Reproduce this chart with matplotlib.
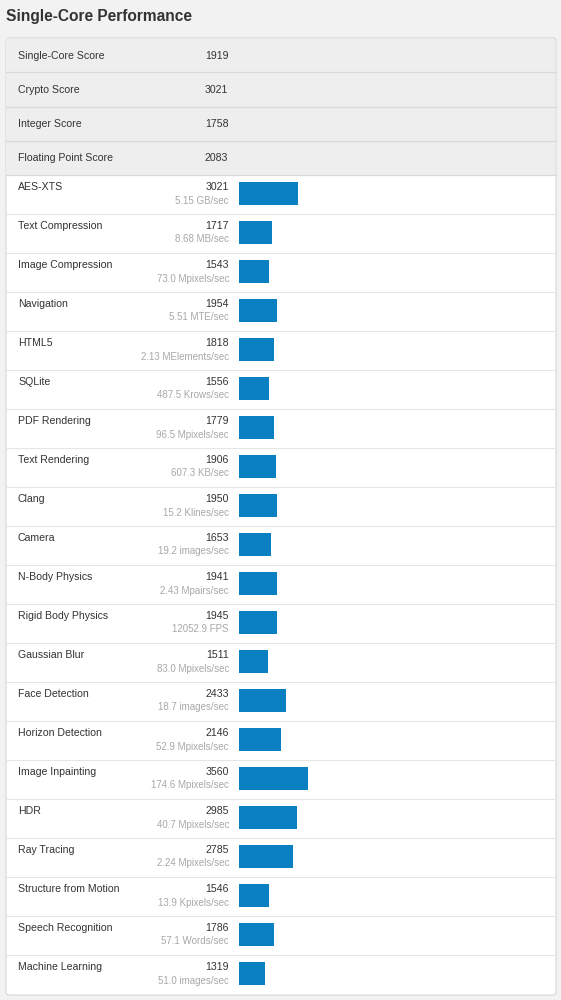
import matplotlib as mpl
mpl.use('Agg')
import matplotlib.pyplot as plt
from matplotlib.patches import Rectangle, FancyBboxPatch

plt.rcParams['font.family'] = ['Liberation Sans', 'DejaVu Sans']

# Data
title = 'Single-Core Performance'
summary_names = ['Single-Core Score', 'Crypto Score', 'Integer Score', 'Floating Point Score']
summary_scores = [1919, 3021, 1758, 2083]

bench_names = ['AES-XTS', 'Text Compression', 'Image Compression', 'Navigation', 'HTML5',
               'SQLite', 'PDF Rendering', 'Text Rendering', 'Clang', 'Camera',
               'N-Body Physics', 'Rigid Body Physics', 'Gaussian Blur', 'Face Detection',
               'Horizon Detection', 'Image Inpainting', 'HDR', 'Ray Tracing',
               'Structure from Motion', 'Speech Recognition', 'Machine Learning']
bench_scores = [3021, 1717, 1543, 1954, 1818, 1556, 1779, 1906, 1950, 1653,
                1941, 1945, 1511, 2433, 2146, 3560, 2985, 2785, 1546, 1786, 1319]
bench_rates = ['5.15 GB/sec', '8.68 MB/sec', '73.0 Mpixels/sec', '5.51 MTE/sec',
               '2.13 MElements/sec', '487.5 Krows/sec', '96.5 Mpixels/sec', '607.3 KB/sec',
               '15.2 Klines/sec', '19.2 images/sec', '2.43 Mpairs/sec', '12052.9 FPS',
               '83.0 Mpixels/sec', '18.7 images/sec', '52.9 Mpixels/sec', '174.6 Mpixels/sec',
               '40.7 Mpixels/sec', '2.24 Mpixels/sec', '13.9 Kpixels/sec', '57.1 Words/sec',
               '51.0 images/sec']

# Layout (pixels)
W, H = 561, 1000
panel_l, panel_r, panel_t, panel_b = 6, 556, 38, 995
sum_h = 34.25
rows_t = panel_t + 4 * sum_h
row_h = 39
bar_x0 = 239
px_per_point = 0.0195

bg = '#f2f2f2'
grey_row = '#eeeeee'
line_c = '#d9d9d9'
text_c = '#333333'
sub_c = '#a8a8a8'
bar_c = '#0a7fc2'

fig = plt.figure(figsize=(W / 100, H / 100), dpi=100)
fig.patch.set_facecolor(bg)

ax = fig.add_axes([0, 0, 1, 1])
ax.set_xlim(0, W)
ax.set_ylim(H, 0)
ax.axis('off')

ax.text(6, 17, title, fontsize=11.2, fontweight='bold', color=text_c, va='center', ha='left')

# panel
ax.add_patch(FancyBboxPatch((panel_l, panel_t), panel_r - panel_l, panel_b - panel_t,
                            boxstyle='round,pad=0,rounding_size=3', facecolor='white',
                            edgecolor='#d6d6d6', linewidth=0.8, zorder=1))

# summary rows
for i, (name, score) in enumerate(zip(summary_names, summary_scores)):
    top = panel_t + i * sum_h
    ax.add_patch(Rectangle((panel_l + 0.5, top + 0.5), panel_r - panel_l - 1, sum_h - 0.5,
                           facecolor=grey_row, edgecolor='none', zorder=2))
    ax.plot([panel_l, panel_r], [top + sum_h, top + sum_h], color=line_c, lw=0.9, zorder=3)
    ax.text(18, top + sum_h / 2 + 0.5, name, fontsize=7.6, color=text_c, va='center', zorder=4)
    ax.text(205, top + sum_h / 2 + 0.5, str(score), fontsize=7.6, color=text_c, va='center', zorder=4)

# benchmark rows
for i, (name, score, rate) in enumerate(zip(bench_names, bench_scores, bench_rates)):
    top = rows_t + i * row_h
    if i < len(bench_names) - 1:
        ax.plot([panel_l, panel_r], [top + row_h, top + row_h], color='#e6e6e6', lw=0.8, zorder=3)
    ax.text(18, top + 12, name, fontsize=7.6, color=text_c, va='center', zorder=4)
    ax.text(229, top + 12, str(score), fontsize=7.6, color=text_c, va='center', ha='right', zorder=4)
    ax.text(229, top + 25.5, rate, fontsize=7, color=sub_c, va='center', ha='right', zorder=4)

# bars
bar_w_px = 300
bax = fig.add_axes([bar_x0 / W, 1 - (rows_t + len(bench_names) * row_h) / H,
                    bar_w_px / W, len(bench_names) * row_h / H])
bax.patch.set_alpha(0)
d = 0.026
bax.set_ylim(len(bench_names) - 0.5 + d, -0.5 + d)
bax.set_xlim(0, bar_w_px / px_per_point)
bax.barh(range(len(bench_names)), bench_scores, height=23 / row_h, color=bar_c)
bax.axis('off')

fig.savefig('out.png', dpi=100, facecolor=bg)
